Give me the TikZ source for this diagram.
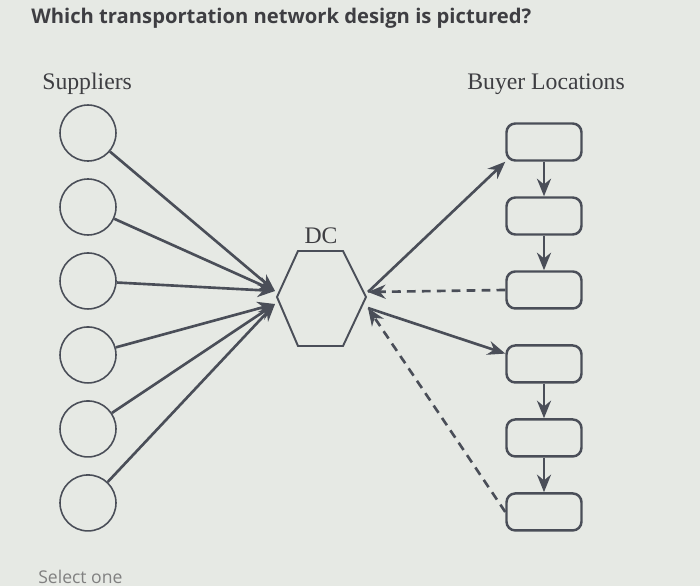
\documentclass[tikz,border=0pt]{standalone}
\usepackage{fontspec}
\setmainfont{Liberation Serif}
\newfontfamily\opensans{Open Sans}
\usetikzlibrary{arrows.meta,positioning,calc}
\definecolor{ink}{RGB}{74,78,88}
\definecolor{paper}{RGB}{230,233,228}
\definecolor{titlegrey}{RGB}{62,62,66}

\begin{document}
\begin{tikzpicture}[x=0.02cm,y=-0.02cm,>={Stealth[length=10pt,width=8pt]},line width=1.5pt,draw=ink,node distance=1.48cm,
		lbl/.style={anchor=base west,inner sep=0,text=titlegrey,font=\fontsize{13.5}{16}\selectfont},
		sup/.style={draw=ink,line width=0.9pt,circle,minimum size=1.12cm,inner sep=0},
		loc/.style={draw=ink,line width=1.4pt,rounded corners=5pt,minimum width=1.5cm,minimum height=0.74cm,inner sep=0},
		back/.style={dash pattern=on 5pt off 3.5pt}]
		\fill[paper] (0,0) rectangle (700,586);
		\useasboundingbox (0,0) rectangle (700,586);
		\node[anchor=base west,inner sep=0,text=titlegrey,font=\opensans\bfseries\fontsize{11.5}{14}\selectfont] (title) at (30,23) {Which transportation network design is pictured?};
		\node[lbl] (suplbl) at (41,89) {Suppliers};
		\node[lbl] (loclbl) at (466,89) {Buyer Locations};
		\node[lbl,anchor=base] (dclbl) at (321,243) {DC};
		\node[sup] (s1) at (88,133) {};
		\node[sup] (s2) [below of=s1] {};
		\node[sup] (s3) [below of=s2] {};
		\node[sup] (s4) [below of=s3] {};
		\node[sup] (s5) [below of=s4] {};
		\node[sup] (s6) [below of=s5] {};
		\node[loc] (b1) at (544,142) {};
		\node[loc] (b2) [below of=b1] {};
		\node[loc] (b3) [below of=b2] {};
		\node[loc] (b4) [below of=b3] {};
		\node[loc] (b5) [below of=b4] {};
		\node[loc] (b6) [below of=b5] {};
		\coordinate (dc) at (321,298);
		\draw[line width=1.1pt] (277,297) -- (298,251) -- (343,251) -- (366,297) -- (343,346) -- (298,346) -- cycle;
		\coordinate (dcW1) at (275,291);
		\coordinate (dcW2) at (275,304);
		\coordinate (dcE1) at (368,292);
		\coordinate (dcE2) at (368,308);
		\foreach \i in {1,2,3}
			\draw[->] (s\i) -- (dcW1);
		\foreach \i in {4,5,6}
			\draw[->] (s\i) -- (dcW2);
		\draw[->] (dcE1) -- (b1.south west);
		\draw[->,back] (b3.west) -- (dcE1);
		\draw[->] (dcE2) -- (b4.165);
		\draw[->,back] (b6.west) -- (dcE2);
		\foreach \a/\b in {b1/b2,b2/b3,b4/b5,b5/b6}
			\draw[->] (\a) -- (\b);
		\node[anchor=base west,inner sep=0,text=gray,font=\opensans\fontsize{10}{12}\selectfont] (select) at (37,583) {Select one};
\end{tikzpicture}
\end{document}
